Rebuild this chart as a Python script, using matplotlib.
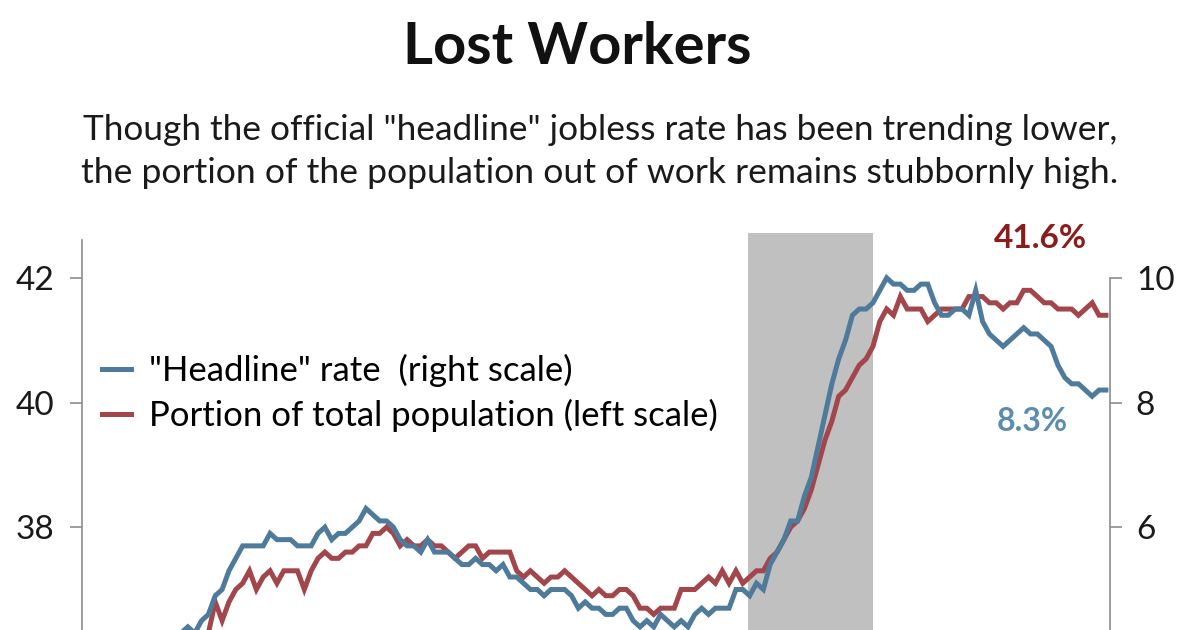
import numpy as np
import pandas as pd
from matplotlib import pyplot as plt

# Monthly values, Jan 2000 .. Jun 2012
headline_rate = [
    4.0, 4.1, 4.0, 3.8, 4.0, 4.0, 4.0, 4.1, 3.9, 3.9, 3.9, 3.9,
    4.2, 4.2, 4.3, 4.4, 4.3, 4.5, 4.6, 4.9, 5.0, 5.3, 5.5, 5.7,
    5.7, 5.7, 5.7, 5.9, 5.8, 5.8, 5.8, 5.7, 5.7, 5.7, 5.9, 6.0,
    5.8, 5.9, 5.9, 6.0, 6.1, 6.3, 6.2, 6.1, 6.1, 6.0, 5.8, 5.7,
    5.7, 5.6, 5.8, 5.6, 5.6, 5.6, 5.5, 5.4, 5.4, 5.5, 5.4, 5.4,
    5.3, 5.4, 5.2, 5.2, 5.1, 5.0, 5.0, 4.9, 5.0, 5.0, 5.0, 4.9,
    4.7, 4.8, 4.7, 4.7, 4.6, 4.6, 4.7, 4.7, 4.5, 4.4, 4.5, 4.4,
    4.6, 4.5, 4.4, 4.5, 4.4, 4.6, 4.7, 4.6, 4.7, 4.7, 4.7, 5.0,
    5.0, 4.9, 5.1, 5.0, 5.4, 5.6, 5.8, 6.1, 6.1, 6.5, 6.8, 7.3,
    7.8, 8.3, 8.7, 9.0, 9.4, 9.5, 9.5, 9.6, 9.8, 10.0, 9.9, 9.9,
    9.8, 9.8, 9.9, 9.9, 9.6, 9.4, 9.4, 9.5, 9.5, 9.4, 9.8, 9.3,
    9.1, 9.0, 8.9, 9.0, 9.1, 9.2, 9.1, 9.1, 9.0, 8.9, 8.6, 8.4,
    8.3, 8.3, 8.2, 8.1, 8.2, 8.2,
]
population_rate = [
    35.4, 35.4, 35.4, 35.3, 35.6, 35.5, 35.8, 35.8, 36.0, 36.0, 35.9, 35.6,
    35.6, 35.7, 35.7, 36.0, 36.2, 36.3, 36.3, 36.8, 36.5, 36.8, 37.0, 37.1,
    37.3, 37.0, 37.2, 37.3, 37.1, 37.3, 37.3, 37.3, 37.0, 37.3, 37.5, 37.6,
    37.5, 37.5, 37.6, 37.6, 37.7, 37.7, 37.9, 37.9, 38.0, 37.9, 37.7, 37.8,
    37.7, 37.7, 37.8, 37.7, 37.7, 37.6, 37.5, 37.6, 37.7, 37.7, 37.5, 37.6,
    37.6, 37.6, 37.6, 37.3, 37.2, 37.3, 37.2, 37.1, 37.2, 37.2, 37.3, 37.2,
    37.1, 37.0, 36.9, 37.0, 36.9, 36.9, 37.0, 37.0, 36.9, 36.7, 36.7, 36.6,
    36.7, 36.7, 36.7, 37.0, 37.0, 37.0, 37.1, 37.2, 37.1, 37.3, 37.1, 37.3,
    37.1, 37.2, 37.3, 37.3, 37.5, 37.6, 37.8, 38.0, 38.1, 38.3, 38.6, 39.0,
    39.4, 39.7, 40.1, 40.2, 40.4, 40.6, 40.7, 40.9, 41.3, 41.5, 41.4, 41.7,
    41.5, 41.5, 41.5, 41.3, 41.4, 41.5, 41.5, 41.5, 41.5, 41.7, 41.7, 41.7,
    41.6, 41.6, 41.5, 41.6, 41.6, 41.8, 41.8, 41.7, 41.6, 41.6, 41.5, 41.5,
    41.5, 41.4, 41.5, 41.6, 41.4, 41.4,
]
months = np.arange(len(headline_rate))

# Shaded recession band, in month positions
recession = (96.8, 115.0)

left_ticks = [38, 40, 42]
right_ticks = [6, 8, 10]
labels = ['"Headline" rate  (right scale)', 'Portion of total population (left scale)']
end_labels = ['8.3%', '41.6%']
title = 'Lost Workers'
subtitle = ['Though the official "headline" jobless rate has been trending lower,',
            'the portion of the population out of work remains stubbornly high.']

BLUE = '#4e7b9b'
RED = '#a3464b'
GRAY = '#8c8c8c'


def fit_width(txt, target_px, renderer):
    # scale font size so the text spans the wanted width in pixels
    w = txt.get_window_extent(renderer).width
    txt.set_fontsize(txt.get_fontsize() * target_px / w)


fig = plt.figure(figsize=(12, 6.3), dpi=100)
ax = fig.add_axes([82 / 1200, 0.0, 1028 / 1200, 1 - 233 / 630])
ax2 = ax.twinx()

ax.axvspan(recession[0], recession[1], color='#c0c0c0', lw=0, zorder=0)

l2, = ax.plot(months, population_rate, color=RED, lw=3.6, solid_joinstyle='miter', zorder=3)
l1, = ax2.plot(months, headline_rate, color=BLUE, lw=3.6, solid_joinstyle='miter', zorder=3)

# Axes styling
for a in (ax, ax2):
    for s in ['top', 'bottom']:
        a.spines[s].set_visible(False)
    a.set_xticks([])
ax.spines['right'].set_visible(False)
ax2.spines['left'].set_visible(False)
ax.spines['left'].set_color(GRAY)
ax2.spines['right'].set_color(GRAY)
ax.spines['left'].set_linewidth(1.2)
ax2.spines['right'].set_linewidth(1.2)

ax.set_yticks(left_ticks)
ax2.set_yticks(right_ticks)
y_lo, y_hi = 36.35, 42.72
ax.set_ylim(y_lo, y_hi)
ax2.set_ylim(y_lo - 32, y_hi - 32)
ax.set_xlim(-0.45, 149.6)
ax.spines['left'].set_bounds(y_lo, 42.61)
ax2.spines['right'].set_bounds(y_lo - 32, 10)

ax.tick_params(axis='y', length=8.6, width=1.2, color=GRAY, pad=11, labelsize=24, labelcolor='#1a1a1a')
ax2.tick_params(axis='y', length=8.6, width=1.2, color=GRAY, pad=10, labelsize=24, labelcolor='#1a1a1a')
for t in ax.get_yticklabels() + ax2.get_yticklabels():
    t.set_fontfamily('Lato')

# Legend
fig.legend([l1, l2], labels, loc='upper left', bbox_to_anchor=(102 / 1200, 1 - 354 / 630),
           frameon=False, prop={'family': 'Lato', 'size': 25}, handlelength=0.84,
           handletextpad=0.52, labelspacing=0.33, borderpad=0, borderaxespad=0)

# End-of-series labels
ax2.annotate(end_labels[0], xy=(months[-1], headline_rate[-1]), xytext=(-53, -23),
             textcoords='offset points', ha='center', va='center', color='#5b8db3',
             fontsize=23, fontweight='bold', family='Lato')
ax.annotate(end_labels[1], xy=(months[-1], population_rate[-1]), xytext=(-47, 55),
            textcoords='offset points', ha='center', va='center', color='#8c1c1c',
            fontsize=24, fontweight='bold', family='Lato')

# Title and subtitle
r = fig.canvas.get_renderer()
t0 = fig.text(577 / 1200, 1 - 64 / 630, title, ha='center', va='baseline',
              fontsize=40, fontweight='bold', family='Lato', color='#111111')
fit_width(t0, 349, r)
for i, line in enumerate(subtitle):
    t = fig.text(600 / 1200, 1 - (140 + 43 * i) / 630, line, ha='center', va='baseline',
                 fontsize=24, family='Lato', color='#1a1a1a')
    fit_width(t, 1035, r)

plt.savefig('out.png', dpi=100)
